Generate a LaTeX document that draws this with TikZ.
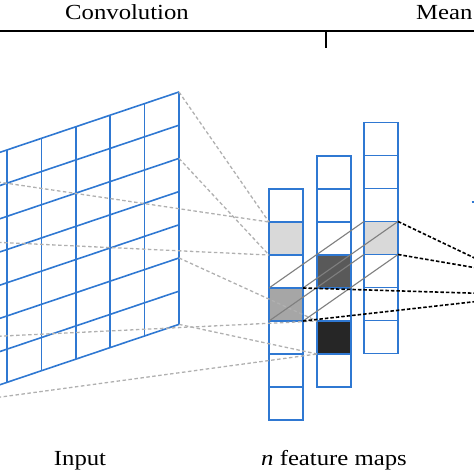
\documentclass[tikz,border=0pt]{standalone}
\usepackage{fontspec}
\setmainfont{Liberation Serif}
\usetikzlibrary{calc}
\definecolor{cblue}{HTML}{2F78D2}
\definecolor{gA}{HTML}{D9D9D9}
\definecolor{gB}{HTML}{A6A6A6}
\definecolor{gC}{HTML}{595959}
\definecolor{gD}{HTML}{262626}
\definecolor{dashgray}{HTML}{B0B0B0}
\definecolor{edgegray}{HTML}{7F7F7F}
\tikzset{
  gridline/.style={cblue, line width=1.6pt},
  cell/.style={draw=cblue, line width=1.6pt, minimum width=34pt, minimum height=33pt, inner sep=0pt, outer sep=0pt},
  dashln/.style={dashgray, line width=1.3pt, dash pattern=on 3.5pt off 2.5pt},
  edgeln/.style={edgegray, line width=1.1pt},
  blkdash/.style={black, line width=1.6pt, dash pattern=on 3.5pt off 2pt},
  axisln/.style={black, line width=1.4pt},
  lab/.style={font=\fontsize{21.5}{26}\selectfont, inner sep=0pt, anchor=base},
}
\begin{document}
\begin{tikzpicture}[x=1pt, y=-1pt]
\useasboundingbox (0,0) rectangle (474,474);
\clip (0,0) rectangle (474,474);

% header
\coordinate (axL) at (0,31);
\coordinate (axR) at (474,31);
\coordinate (tickT) at (326,31);
\coordinate (tickB) at (326,48);
\draw[axisln] (axL) -- (axR);
\draw[axisln] (tickT) -- (tickB);
\node[lab] (tconv) at (127,19.5) {\scalebox{1.15}[1]{Convolution}};
\node[lab, anchor=base west] (tmean) at (416,19.5) {\scalebox{1.15}[1]{Mean}};

% input grid (sheared)
\begin{scope}[yslant=0.337]
  \foreach \k in {0,...,7}
    \draw[gridline] (-61.8+34.4*\k,152.3) -- (-61.8+34.4*\k,384.7);
  \foreach \j in {0,...,7}
    \draw[gridline] (-61.8,152.3+33.2*\j) -- (179,152.3+33.2*\j);
  \coordinate (R0) at (179,152.3);
  \coordinate (R2) at (179,218.7);
  \coordinate (R5) at (179,318.3);
  \coordinate (R7) at (179,384.7);
  \coordinate (L0) at (-61.8,152.3);
  \coordinate (L2) at (-61.8,218.7);
  \coordinate (L5) at (-61.8,318.3);
  \coordinate (L7) at (-61.8,384.7);
\end{scope}

% feature maps
\foreach \i/\f in {1/white,2/gA,3/white,4/gB,5/white,6/white,7/white}
  \node[cell, fill=\f] (a\i) at (286,172.5+33*\i) {};
\foreach \i/\f in {1/white,2/white,3/white,4/gC,5/white,6/gD,7/white}
  \node[cell, fill=\f] (b\i) at (334,139.5+33*\i) {};
\foreach \i/\f in {1/white,2/white,3/white,4/gA,5/white,6/white,7/white}
  \node[cell, fill=\f] (c\i) at (381,106+33*\i) {};

% receptive field lines
\draw[dashln] (R0) -- (a2.north west);
\draw[dashln] (L0) -- (a2.north west);
\draw[dashln] (R2) -- (a2.south west);
\draw[dashln] (L2) -- (a2.south west);
\draw[dashln] (R5) -- (b6.north west);
\draw[dashln] (L5) -- (b6.north west);
\draw[dashln] (R7) -- (b6.south west);
\draw[dashln] (L7) -- (b6.south west);

% prism edges
\draw[edgeln] (a4.north west) -- (c4.north west);
\draw[edgeln] (a4.north east) -- (c4.north east);
\draw[edgeln] (a4.south west) -- (c4.south west);
\draw[edgeln] (a4.south east) -- (c4.south east);

% pooling lines
\coordinate (P1) at (534,295);
\coordinate (P2) at (506,273);
\draw[blkdash] (a4.north east) -- (P1);
\draw[blkdash] (a4.south east) -- (P1);
\draw[blkdash] (c4.north east) -- (P2);
\draw[blkdash] (c4.south east) -- (P2);

% partial blue mark at right edge
\coordinate (m1) at (471.5,202);
\coordinate (m2) at (476,202);
\draw[gridline] (m1) -- (m2);

% labels
\node[lab] (tin) at (80,465.5) {\scalebox{1.15}[1]{Input}};
\node[lab] (tfm) at (334,465.5) {\scalebox{1.15}[1]{\textit{n} feature maps}};
\end{tikzpicture}
\end{document}
